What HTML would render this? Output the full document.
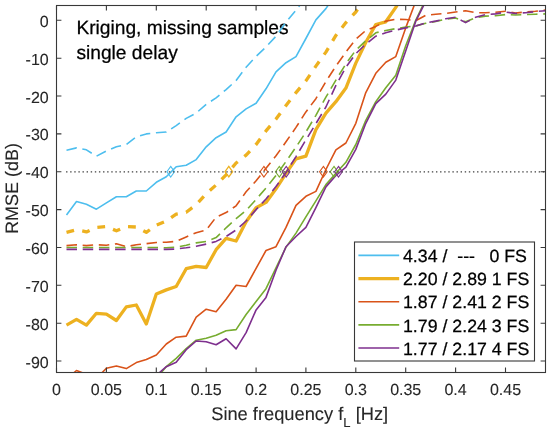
<!DOCTYPE html>
<html><head><meta charset="utf-8"><style>
html,body{margin:0;padding:0;background:#fff;width:550px;height:433px;overflow:hidden}
svg{display:block}
text{text-rendering:geometricPrecision;font-family:"Liberation Sans",sans-serif;fill:#000;stroke:#000;stroke-width:0.25px}
text.ax{fill:#262626;stroke:#262626;stroke-width:0.1px}
</style></head><body>
<svg width="550" height="433" viewBox="0 0 550 433" style="will-change:transform;filter:blur(0.3px)">
<defs><clipPath id="c"><rect x="56.5" y="5.5" width="489" height="367"/></clipPath></defs>
<rect width="550" height="433" fill="#fff"/>

<text x="76.4" y="33.60" font-size="19.2">Kriging, missing samples</text>
<text x="76.4" y="58.50" font-size="19.2">single delay</text>
<g clip-path="url(#c)">
<polyline points="66.5,214.9 76.5,201.6 86.4,204.3 96.4,209.2 106.4,202.8 116.4,196.7 126.3,196.7 136.3,191.0 146.3,191.0 156.3,182.3 166.3,176.7 176.2,166.8 186.2,165.3 196.2,159.6 206.2,146.8 216.1,137.7 226.1,132.0 236.1,116.8 246.1,108.9 256.1,103.2 266.0,88.8 276.0,71.8 286.0,62.7 296.0,56.6 305.9,38.5 315.9,19.9 325.9,8.6 335.9,-6.2 345.9,-25.1 355.8,-25.1 365.8,-25.1 375.8,-25.1 385.8,-25.1 395.8,-25.1 405.7,-25.1 415.7,-25.1 425.7,-25.1 435.7,-25.1 445.6,-25.1 455.6,-25.1 465.6,-25.1 475.6,-25.1 485.6,-25.1 495.5,-25.1 505.5,-25.1 515.5,-25.1 525.5,-25.1 535.4,-25.1 545.4,-25.1" fill="none" stroke="#4DBEEE" stroke-width="1.6" stroke-linejoin="round" stroke-linecap="butt"/>
<polyline points="66.5,150.2 76.5,147.9 86.4,149.8 96.4,156.2 106.4,150.9 116.4,146.8 126.3,144.5 136.3,136.9 146.3,133.9 156.3,132.7 166.3,132.0 176.2,125.6 186.2,118.4 196.2,113.1 206.2,104.3 216.1,97.9 226.1,89.6 236.1,80.5 246.1,67.2 256.1,56.3 266.0,47.0 276.0,36.2 286.0,22.2 296.0,10.1 305.9,-2.4 315.9,-25.1 325.9,-25.1 335.9,-25.1 345.9,-25.1 355.8,-25.1 365.8,-25.1 375.8,-25.1 385.8,-25.1 395.8,-25.1 405.7,-25.1 415.7,-25.1 425.7,-25.1 435.7,-25.1 445.6,-25.1 455.6,-25.1 465.6,-25.1 475.6,-25.1 485.6,-25.1 495.5,-25.1 505.5,-25.1 515.5,-25.1 525.5,-25.1 535.4,-25.1 545.4,-25.1" fill="none" stroke="#4DBEEE" stroke-width="1.6" stroke-linejoin="round" stroke-linecap="butt" stroke-dasharray="10.5 5.7"/>
<polyline points="66.5,325.1 76.5,319.4 86.4,325.1 96.4,313.3 106.4,314.1 116.4,320.5 126.3,306.9 136.3,305.0 146.3,323.9 156.3,294.0 166.3,289.9 176.2,286.5 186.2,268.7 196.2,266.4 206.2,267.5 216.1,249.7 226.1,238.4 236.1,241.0 246.1,221.7 256.1,207.7 266.0,202.4 276.0,188.8 286.0,173.3 296.0,158.9 305.9,156.2 315.9,129.7 325.9,113.1 335.9,101.7 345.9,88.1 355.8,63.1 365.8,42.3 375.8,24.5 385.8,21.8 395.8,7.4 405.7,-10.0 415.7,-25.1 425.7,-25.1 435.7,-25.1 445.6,-25.1 455.6,-25.1 465.6,-25.1 475.6,-25.1 485.6,-25.1 495.5,-25.1 505.5,-25.1 515.5,-25.1 525.5,-25.1 535.4,-25.1 545.4,-25.1" fill="none" stroke="#EDB120" stroke-width="3.3" stroke-linejoin="round" stroke-linecap="butt"/>
<polyline points="66.5,232.3 76.5,229.7 86.4,231.9 96.4,227.4 106.4,226.6 116.4,230.8 126.3,226.6 136.3,227.0 146.3,232.3 156.3,225.1 166.3,221.0 176.2,214.1 186.2,212.3 196.2,204.7 206.2,193.7 216.1,185.0 226.1,174.8 236.1,163.0 246.1,155.1 256.1,144.5 266.0,130.9 276.0,119.1 286.0,105.5 296.0,92.6 305.9,80.9 315.9,66.1 325.9,52.1 335.9,35.4 345.9,22.6 355.8,12.0 365.8,-2.4 375.8,-25.1 385.8,-25.1 395.8,-25.1 405.7,-25.1 415.7,-25.1 425.7,-25.1 435.7,-25.1 445.6,-25.1 455.6,-25.1 465.6,-25.1 475.6,-25.1 485.6,-25.1 495.5,-25.1 505.5,-25.1 515.5,-25.1 525.5,-25.1 535.4,-25.1 545.4,-25.1" fill="none" stroke="#EDB120" stroke-width="3.3" stroke-linejoin="round" stroke-linecap="butt" stroke-dasharray="7.8 8.4"/>
<polyline points="66.5,379.2 76.5,370.5 86.4,374.3 96.4,378.5 106.4,368.2 116.4,366.0 126.3,368.6 136.3,362.6 146.3,359.5 156.3,355.0 166.3,344.0 176.2,337.2 186.2,336.1 196.2,317.1 206.2,309.2 216.1,311.8 226.1,299.3 236.1,285.3 246.1,286.5 256.1,268.3 266.0,250.5 276.0,246.7 286.0,227.4 296.0,205.4 305.9,196.3 315.9,191.4 325.9,169.5 335.9,149.8 345.9,143.0 355.8,123.3 365.8,92.6 375.8,73.3 385.8,62.3 395.8,56.6 405.7,27.9 415.7,1.4 425.7,-25.1 435.7,-25.1 445.6,-25.1 455.6,-25.1 465.6,-25.1 475.6,-25.1 485.6,-25.1 495.5,-25.1 505.5,-25.1 515.5,-25.1 525.5,-25.1 535.4,-25.1 545.4,-25.1" fill="none" stroke="#D95319" stroke-width="1.6" stroke-linejoin="round" stroke-linecap="butt"/>
<polyline points="66.5,245.6 76.5,244.8 86.4,245.6 96.4,244.8 106.4,245.2 116.4,243.7 126.3,246.7 136.3,244.8 146.3,243.7 156.3,242.5 166.3,242.2 176.2,241.4 186.2,236.9 196.2,232.7 206.2,230.0 216.1,217.2 226.1,212.6 236.1,205.8 246.1,191.8 256.1,180.8 266.0,168.3 276.0,155.8 286.0,141.8 296.0,127.4 305.9,111.9 315.9,98.7 325.9,81.6 335.9,66.1 345.9,52.1 355.8,39.2 365.8,30.5 375.8,26.4 385.8,21.1 395.8,19.2 405.7,19.5 415.7,20.7 425.7,15.4 435.7,14.2 445.6,13.5 455.6,12.0 465.6,10.8 475.6,12.7 485.6,12.7 495.5,12.3 505.5,11.2 515.5,13.1 525.5,12.0 535.4,11.2 545.4,10.1" fill="none" stroke="#D95319" stroke-width="1.6" stroke-linejoin="round" stroke-linecap="butt" stroke-dasharray="10.5 5.7"/>
<polyline points="66.5,436.8 76.5,436.8 86.4,436.8 96.4,436.8 106.4,436.8 116.4,436.8 126.3,436.8 136.3,436.8 146.3,436.8 156.3,378.1 166.3,366.7 176.2,358.4 186.2,348.5 196.2,340.2 206.2,338.3 216.1,335.3 226.1,330.8 236.1,329.6 246.1,314.5 256.1,301.6 266.0,288.7 276.0,267.9 286.0,247.1 296.0,233.1 305.9,216.8 315.9,200.9 325.9,184.6 335.9,173.3 345.9,162.3 355.8,144.5 365.8,120.3 375.8,101.7 385.8,87.7 395.8,75.2 405.7,45.7 415.7,20.3 425.7,-0.5 435.7,-25.1 445.6,-25.1 455.6,-25.1 465.6,-25.1 475.6,-25.1 485.6,-25.1 495.5,-25.1 505.5,-25.1 515.5,-25.1 525.5,-25.1 535.4,-25.1 545.4,-25.1" fill="none" stroke="#77AC30" stroke-width="1.6" stroke-linejoin="round" stroke-linecap="butt"/>
<polyline points="66.5,247.5 76.5,247.5 86.4,247.5 96.4,247.5 106.4,247.5 116.4,247.5 126.3,247.5 136.3,247.5 146.3,247.5 156.3,247.5 166.3,247.8 176.2,247.1 186.2,245.2 196.2,242.9 206.2,241.4 216.1,237.6 226.1,227.8 236.1,218.7 246.1,210.4 256.1,199.4 266.0,188.0 276.0,175.5 286.0,161.5 296.0,147.1 305.9,132.0 315.9,115.3 325.9,97.2 335.9,80.1 345.9,63.8 355.8,50.2 365.8,40.7 375.8,32.8 385.8,30.5 395.8,28.6 405.7,27.1 415.7,26.0 425.7,23.3 435.7,21.4 445.6,19.2 455.6,18.0 465.6,21.8 475.6,17.6 485.6,16.1 495.5,15.8 505.5,14.6 515.5,15.0 525.5,14.6 535.4,14.2 545.4,13.9" fill="none" stroke="#77AC30" stroke-width="1.6" stroke-linejoin="round" stroke-linecap="butt" stroke-dasharray="10.5 5.7"/>
<polyline points="66.5,436.8 76.5,436.8 86.4,436.8 96.4,436.8 106.4,436.8 116.4,436.8 126.3,436.8 136.3,436.8 146.3,436.8 156.3,375.4 166.3,366.7 176.2,362.2 186.2,349.7 196.2,341.0 206.2,341.7 216.1,344.8 226.1,338.7 236.1,348.9 246.1,332.6 256.1,309.9 266.0,297.4 276.0,270.2 286.0,246.7 296.0,236.5 305.9,227.4 315.9,207.7 325.9,186.9 335.9,175.5 345.9,167.2 355.8,149.4 365.8,123.3 375.8,103.6 385.8,94.1 395.8,80.1 405.7,51.0 415.7,21.4 425.7,1.4 435.7,-25.1 445.6,-25.1 455.6,-25.1 465.6,-25.1 475.6,-25.1 485.6,-25.1 495.5,-25.1 505.5,-25.1 515.5,-25.1 525.5,-25.1 535.4,-25.1 545.4,-25.1" fill="none" stroke="#7E2F8E" stroke-width="1.6" stroke-linejoin="round" stroke-linecap="butt"/>
<polyline points="66.5,249.4 76.5,249.4 86.4,249.4 96.4,249.4 106.4,249.4 116.4,249.4 126.3,249.4 136.3,249.4 146.3,249.4 156.3,249.4 166.3,249.4 176.2,249.0 186.2,247.8 196.2,246.3 206.2,244.1 216.1,241.4 226.1,236.5 236.1,230.0 246.1,221.0 256.1,209.6 266.0,199.0 276.0,186.5 286.0,172.5 296.0,156.6 305.9,139.9 315.9,123.7 325.9,107.0 335.9,85.4 345.9,67.2 355.8,53.6 365.8,44.2 375.8,36.2 385.8,32.8 395.8,30.1 405.7,27.9 415.7,26.0 425.7,23.0 435.7,21.1 445.6,18.8 455.6,17.3 465.6,22.6 475.6,17.3 485.6,14.6 495.5,13.9 505.5,12.0 515.5,13.5 525.5,12.7 535.4,11.6 545.4,10.8" fill="none" stroke="#7E2F8E" stroke-width="1.6" stroke-linejoin="round" stroke-linecap="butt" stroke-dasharray="10.5 5.7"/>
</g>
<path d="M170.7 166.4L174.5 171.7L170.7 177.0L166.9 171.7Z" fill="none" stroke="#4DBEEE" stroke-width="1.1"/>
<path d="M228.8 166.4L232.6 171.7L228.8 177.0L225.0 171.7Z" fill="none" stroke="#EDB120" stroke-width="1.3"/>
<path d="M263.9 166.4L267.7 171.7L263.9 177.0L260.1 171.7Z" fill="none" stroke="#D95319" stroke-width="1.1"/>
<path d="M279.3 166.4L283.1 171.7L279.3 177.0L275.5 171.7Z" fill="none" stroke="#77AC30" stroke-width="1.1"/>
<path d="M286.2 166.4L290.0 171.7L286.2 177.0L282.4 171.7Z" fill="none" stroke="#7E2F8E" stroke-width="1.1"/>
<path d="M323.4 166.4L327.2 171.7L323.4 177.0L319.6 171.7Z" fill="none" stroke="#D95319" stroke-width="1.1"/>
<path d="M334.0 166.4L337.8 171.7L334.0 177.0L330.2 171.7Z" fill="none" stroke="#77AC30" stroke-width="1.1"/>
<path d="M338.5 166.4L342.3 171.7L338.5 177.0L334.7 171.7Z" fill="none" stroke="#7E2F8E" stroke-width="1.1"/>
<line x1="66.06" y1="171.94" x2="545" y2="171.94" stroke="#404040" stroke-width="1.3" stroke-dasharray="1.4 2.71"/>
<rect x="56.5" y="5.5" width="489" height="367" fill="none" stroke="#383838" stroke-width="1.1"/>
<path d="M56.5 20.3H61.4M545.5 20.3H540.6M56.5 58.2H61.4M545.5 58.2H540.6M56.5 96.0H61.4M545.5 96.0H540.6M56.5 133.9H61.4M545.5 133.9H540.6M56.5 171.7H61.4M545.5 171.7H540.6M56.5 209.6H61.4M545.5 209.6H540.6M56.5 247.5H61.4M545.5 247.5H540.6M56.5 285.3H61.4M545.5 285.3H540.6M56.5 323.2H61.4M545.5 323.2H540.6M56.5 361.0H61.4M545.5 361.0H540.6M56.5 372.5V367.6M56.5 5.5V10.4M106.4 372.5V367.6M106.4 5.5V10.4M156.3 372.5V367.6M156.3 5.5V10.4M206.2 372.5V367.6M206.2 5.5V10.4M256.1 372.5V367.6M256.1 5.5V10.4M305.9 372.5V367.6M305.9 5.5V10.4M355.8 372.5V367.6M355.8 5.5V10.4M405.7 372.5V367.6M405.7 5.5V10.4M455.6 372.5V367.6M455.6 5.5V10.4M505.5 372.5V367.6M505.5 5.5V10.4" stroke="#383838" stroke-width="1.1" fill="none"/>
<text x="48.7" y="26.80" class="ax" font-size="16" text-anchor="end">0</text>
<text x="48.7" y="64.70" class="ax" font-size="16" text-anchor="end">-10</text>
<text x="48.7" y="102.50" class="ax" font-size="16" text-anchor="end">-20</text>
<text x="48.7" y="140.40" class="ax" font-size="16" text-anchor="end">-30</text>
<text x="48.7" y="178.20" class="ax" font-size="16" text-anchor="end">-40</text>
<text x="48.7" y="216.10" class="ax" font-size="16" text-anchor="end">-50</text>
<text x="48.7" y="254.00" class="ax" font-size="16" text-anchor="end">-60</text>
<text x="48.7" y="291.80" class="ax" font-size="16" text-anchor="end">-70</text>
<text x="48.7" y="329.70" class="ax" font-size="16" text-anchor="end">-80</text>
<text x="48.7" y="367.50" class="ax" font-size="16" text-anchor="end">-90</text>
<text x="56.5" y="395.20" class="ax" font-size="16" text-anchor="middle">0</text>
<text x="106.4" y="395.20" class="ax" font-size="16" text-anchor="middle">0.05</text>
<text x="156.3" y="395.20" class="ax" font-size="16" text-anchor="middle">0.1</text>
<text x="206.2" y="395.20" class="ax" font-size="16" text-anchor="middle">0.15</text>
<text x="256.1" y="395.20" class="ax" font-size="16" text-anchor="middle">0.2</text>
<text x="305.9" y="395.20" class="ax" font-size="16" text-anchor="middle">0.25</text>
<text x="355.8" y="395.20" class="ax" font-size="16" text-anchor="middle">0.3</text>
<text x="405.7" y="395.20" class="ax" font-size="16" text-anchor="middle">0.35</text>
<text x="455.6" y="395.20" class="ax" font-size="16" text-anchor="middle">0.4</text>
<text x="505.5" y="395.20" class="ax" font-size="16" text-anchor="middle">0.45</text>
<text x="211.2" y="419.60" class="ax" font-size="18.3">Sine frequency f<tspan font-size="13" dy="7.3">L</tspan><tspan dy="-7.3"> [Hz]</tspan></text>
<text class="ax" transform="translate(17.7,188.5) rotate(-90)" font-size="18" text-anchor="middle">RMSE (dB)</text>
<rect x="354.5" y="242" width="180" height="119" fill="#fff" stroke="#383838" stroke-width="1.1"/>
<line x1="358.4" y1="255.4" x2="399.2" y2="255.4" stroke="#4DBEEE" stroke-width="1.6"/>
<text x="403" y="262.00" font-size="17.75">4.34 /</text>
<text x="457.3" y="262.00" font-size="17.75">---</text>
<text x="489.4" y="262.00" font-size="17.75">0 FS</text>
<line x1="358.4" y1="278.6" x2="399.2" y2="278.6" stroke="#EDB120" stroke-width="3.3"/>
<text x="403" y="285.20" font-size="17.75">2.20 / 2.89 1 FS</text>
<line x1="358.4" y1="301.7" x2="399.2" y2="301.7" stroke="#D95319" stroke-width="1.6"/>
<text x="403" y="308.30" font-size="17.75">1.87 / 2.41 2 FS</text>
<line x1="358.4" y1="324.9" x2="399.2" y2="324.9" stroke="#77AC30" stroke-width="1.6"/>
<text x="403" y="331.50" font-size="17.75">1.79 / 2.24 3 FS</text>
<line x1="358.4" y1="348.0" x2="399.2" y2="348.0" stroke="#7E2F8E" stroke-width="1.6"/>
<text x="403" y="354.60" font-size="17.75">1.77 / 2.17 4 FS</text>
</svg></body></html>
